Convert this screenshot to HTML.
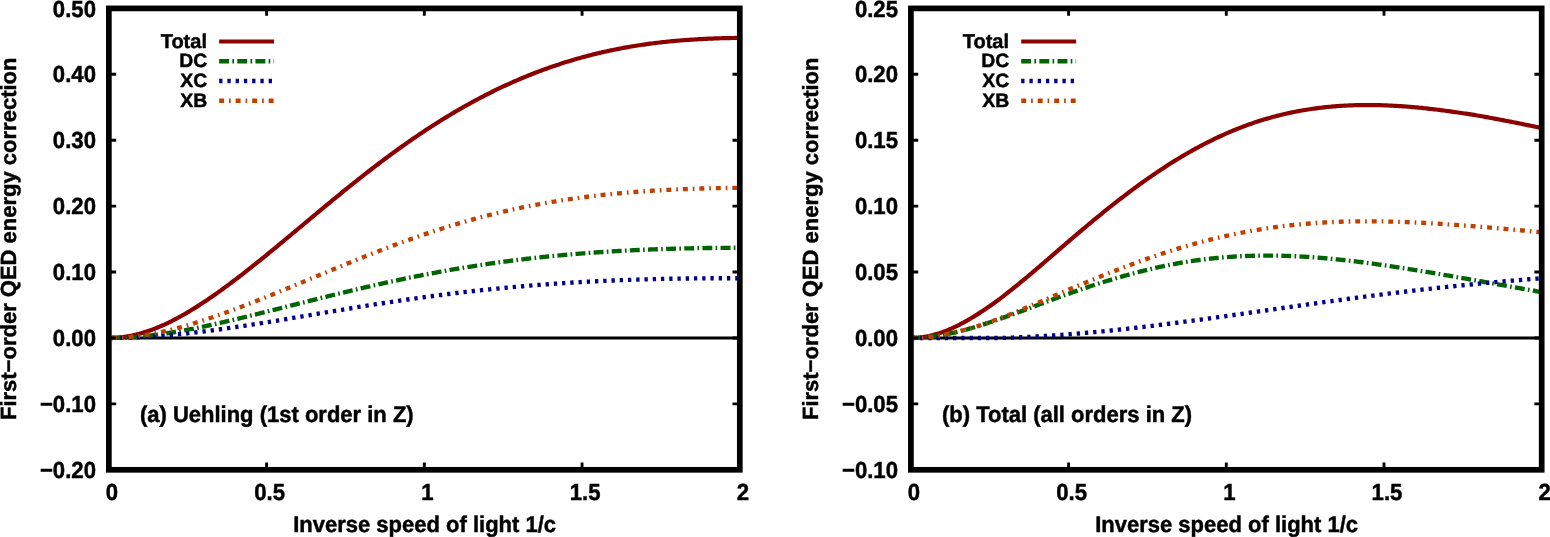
<!DOCTYPE html>
<html><head><meta charset="utf-8"><title>QED energy correction</title>
<style>html,body{margin:0;padding:0;background:#fff}body{width:1550px;height:537px;overflow:hidden}svg{display:block}</style></head>
<body>
<svg width="1550" height="537" viewBox="0 0 1550 537">
<rect width="1550" height="537" fill="#fff"/>
<line x1="108.85" y1="337.97" x2="739.80" y2="337.97" stroke="#000" stroke-width="2.9"/>
<polyline fill="none" stroke="#8b0000" stroke-width="4.2" stroke-linejoin="round" points="112.00,337.93 113.58,337.87 115.15,337.79 116.73,337.69 118.30,337.56 119.87,337.42 121.45,337.25 123.02,337.05 124.59,336.84 126.17,336.60 127.74,336.35 129.31,336.07 130.89,335.76 132.46,335.44 134.03,335.10 135.61,334.73 137.18,334.34 138.75,333.94 140.33,333.51 141.90,333.06 143.47,332.59 145.05,332.11 146.62,331.60 148.19,331.07 149.77,330.53 151.34,329.96 152.91,329.38 154.49,328.78 156.06,328.16 157.63,327.52 159.21,326.87 160.78,326.19 162.35,325.50 163.93,324.80 165.50,324.08 167.07,323.34 168.65,322.59 170.22,321.82 171.79,321.03 173.37,320.23 174.94,319.42 176.52,318.59 178.09,317.75 179.66,316.89 181.24,316.02 182.81,315.14 184.38,314.24 185.96,313.33 187.53,312.41 189.10,311.47 190.68,310.53 192.25,309.57 193.82,308.60 195.40,307.62 196.97,306.63 198.54,305.63 200.12,304.61 201.69,303.59 203.26,302.56 204.84,301.51 206.41,300.46 207.98,299.40 209.56,298.33 211.13,297.25 212.70,296.16 214.28,295.06 215.85,293.96 217.42,292.84 219.00,291.72 220.57,290.59 222.14,289.45 223.72,288.31 225.29,287.16 226.86,286.00 228.44,284.84 230.01,283.67 231.58,282.49 233.16,281.30 234.73,280.11 236.31,278.92 237.88,277.72 239.45,276.51 241.03,275.30 242.60,274.08 244.17,272.85 245.75,271.63 247.32,270.39 248.89,269.16 250.47,267.91 252.04,266.67 253.61,265.42 255.19,264.16 256.76,262.91 258.33,261.64 259.91,260.38 261.48,259.11 263.05,257.84 264.63,256.56 266.20,255.28 267.77,254.00 269.35,252.72 270.92,251.43 272.49,250.14 274.07,248.85 275.64,247.55 277.21,246.26 278.79,244.96 280.36,243.66 281.93,242.36 283.51,241.05 285.08,239.75 286.65,238.44 288.23,237.13 289.80,235.82 291.37,234.51 292.95,233.20 294.52,231.89 296.10,230.58 297.67,229.26 299.24,227.95 300.82,226.63 302.39,225.32 303.96,224.01 305.54,222.69 307.11,221.38 308.68,220.06 310.26,218.75 311.83,217.43 313.40,216.12 314.98,214.81 316.55,213.50 318.12,212.19 319.70,210.88 321.27,209.57 322.84,208.26 324.42,206.96 325.99,205.66 327.56,204.35 329.14,203.06 330.71,201.76 332.28,200.46 333.86,199.17 335.43,197.88 337.00,196.59 338.58,195.31 340.15,194.02 341.72,192.74 343.30,191.47 344.87,190.19 346.44,188.92 348.02,187.65 349.59,186.39 351.16,185.12 352.74,183.86 354.31,182.61 355.89,181.36 357.46,180.11 359.03,178.86 360.61,177.62 362.18,176.38 363.75,175.15 365.33,173.92 366.90,172.69 368.47,171.47 370.05,170.25 371.62,169.03 373.19,167.82 374.77,166.62 376.34,165.42 377.91,164.22 379.49,163.03 381.06,161.84 382.63,160.65 384.21,159.48 385.78,158.30 387.35,157.13 388.93,155.97 390.50,154.81 392.07,153.65 393.65,152.50 395.22,151.36 396.79,150.21 398.37,149.08 399.94,147.95 401.51,146.82 403.09,145.71 404.66,144.59 406.23,143.48 407.81,142.38 409.38,141.28 410.95,140.19 412.53,139.10 414.10,138.02 415.68,136.94 417.25,135.87 418.82,134.81 420.40,133.75 421.97,132.69 423.54,131.64 425.12,130.60 426.69,129.57 428.26,128.54 429.84,127.51 431.41,126.49 432.98,125.48 434.56,124.47 436.13,123.47 437.70,122.47 439.28,121.48 440.85,120.50 442.42,119.52 444.00,118.55 445.57,117.59 447.14,116.63 448.72,115.67 450.29,114.73 451.86,113.79 453.44,112.85 455.01,111.92 456.58,111.00 458.16,110.08 459.73,109.17 461.30,108.27 462.88,107.37 464.45,106.48 466.02,105.59 467.60,104.72 469.17,103.84 470.74,102.98 472.32,102.12 473.89,101.26 475.47,100.41 477.04,99.57 478.61,98.74 480.19,97.91 481.76,97.08 483.33,96.27 484.91,95.46 486.48,94.65 488.05,93.86 489.63,93.06 491.20,92.28 492.77,91.50 494.35,90.73 495.92,89.96 497.49,89.20 499.07,88.45 500.64,87.70 502.21,86.96 503.79,86.22 505.36,85.50 506.93,84.77 508.51,84.06 510.08,83.35 511.65,82.64 513.23,81.95 514.80,81.25 516.37,80.57 517.95,79.89 519.52,79.22 521.09,78.55 522.67,77.89 524.24,77.24 525.81,76.59 527.39,75.95 528.96,75.31 530.53,74.68 532.11,74.06 533.68,73.44 535.26,72.83 536.83,72.23 538.40,71.63 539.98,71.03 541.55,70.45 543.12,69.87 544.70,69.29 546.27,68.72 547.84,68.16 549.42,67.60 550.99,67.05 552.56,66.51 554.14,65.97 555.71,65.44 557.28,64.91 558.86,64.39 560.43,63.87 562.00,63.37 563.58,62.86 565.15,62.37 566.72,61.87 568.30,61.39 569.87,60.91 571.44,60.43 573.02,59.97 574.59,59.50 576.16,59.05 577.74,58.60 579.31,58.15 580.88,57.71 582.46,57.28 584.03,56.85 585.60,56.43 587.18,56.01 588.75,55.60 590.32,55.19 591.90,54.79 593.47,54.40 595.05,54.01 596.62,53.62 598.19,53.24 599.77,52.87 601.34,52.50 602.91,52.14 604.49,51.79 606.06,51.44 607.63,51.09 609.21,50.75 610.78,50.41 612.35,50.08 613.93,49.76 615.50,49.44 617.07,49.13 618.65,48.82 620.22,48.51 621.79,48.21 623.37,47.92 624.94,47.63 626.51,47.35 628.09,47.07 629.66,46.80 631.23,46.53 632.81,46.27 634.38,46.01 635.95,45.75 637.53,45.51 639.10,45.26 640.67,45.02 642.25,44.79 643.82,44.56 645.39,44.34 646.97,44.12 648.54,43.90 650.11,43.69 651.69,43.49 653.26,43.28 654.84,43.09 656.41,42.90 657.98,42.71 659.56,42.52 661.13,42.35 662.70,42.17 664.28,42.00 665.85,41.83 667.42,41.67 669.00,41.51 670.57,41.36 672.14,41.21 673.72,41.06 675.29,40.92 676.86,40.78 678.44,40.64 680.01,40.51 681.58,40.38 683.16,40.26 684.73,40.13 686.30,40.02 687.88,39.90 689.45,39.79 691.02,39.68 692.60,39.58 694.17,39.48 695.74,39.38 697.32,39.29 698.89,39.20 700.46,39.11 702.04,39.03 703.61,38.95 705.18,38.87 706.76,38.79 708.33,38.72 709.90,38.66 711.48,38.59 713.05,38.53 714.63,38.47 716.20,38.41 717.77,38.36 719.35,38.31 720.92,38.26 722.49,38.22 724.07,38.18 725.64,38.14 727.21,38.11 728.79,38.07 730.36,38.04 731.93,38.02 733.51,37.99 735.08,37.97 736.65,37.95 738.23,37.94 739.80,37.92"/>
<polyline fill="none" stroke="#006400" stroke-width="4.35" stroke-linejoin="round" stroke-dasharray="9.90 3.30 1.65 3.30" points="112.00,337.96 113.58,337.94 115.15,337.91 116.73,337.88 118.30,337.84 119.87,337.79 121.45,337.74 123.02,337.67 124.59,337.60 126.17,337.53 127.74,337.44 129.31,337.35 130.89,337.26 132.46,337.15 134.03,337.04 135.61,336.92 137.18,336.80 138.75,336.67 140.33,336.53 141.90,336.38 143.47,336.23 145.05,336.07 146.62,335.91 148.19,335.74 149.77,335.56 151.34,335.38 152.91,335.19 154.49,335.00 156.06,334.80 157.63,334.59 159.21,334.38 160.78,334.16 162.35,333.94 163.93,333.71 165.50,333.48 167.07,333.24 168.65,333.00 170.22,332.75 171.79,332.50 173.37,332.24 174.94,331.98 176.52,331.72 178.09,331.44 179.66,331.17 181.24,330.89 182.81,330.61 184.38,330.32 185.96,330.03 187.53,329.73 189.10,329.43 190.68,329.13 192.25,328.82 193.82,328.52 195.40,328.20 196.97,327.89 198.54,327.57 200.12,327.24 201.69,326.92 203.26,326.59 204.84,326.26 206.41,325.92 207.98,325.59 209.56,325.25 211.13,324.90 212.70,324.56 214.28,324.21 215.85,323.86 217.42,323.51 219.00,323.15 220.57,322.80 222.14,322.44 223.72,322.08 225.29,321.72 226.86,321.35 228.44,320.99 230.01,320.62 231.58,320.25 233.16,319.88 234.73,319.51 236.31,319.13 237.88,318.76 239.45,318.38 241.03,318.00 242.60,317.62 244.17,317.24 245.75,316.86 247.32,316.47 248.89,316.09 250.47,315.70 252.04,315.32 253.61,314.93 255.19,314.54 256.76,314.15 258.33,313.76 259.91,313.37 261.48,312.98 263.05,312.59 264.63,312.19 266.20,311.80 267.77,311.41 269.35,311.01 270.92,310.62 272.49,310.22 274.07,309.83 275.64,309.43 277.21,309.03 278.79,308.64 280.36,308.24 281.93,307.84 283.51,307.45 285.08,307.05 286.65,306.65 288.23,306.25 289.80,305.86 291.37,305.46 292.95,305.06 294.52,304.66 296.10,304.27 297.67,303.87 299.24,303.47 300.82,303.08 302.39,302.68 303.96,302.28 305.54,301.89 307.11,301.49 308.68,301.10 310.26,300.70 311.83,300.31 313.40,299.91 314.98,299.52 316.55,299.13 318.12,298.74 319.70,298.35 321.27,297.95 322.84,297.56 324.42,297.17 325.99,296.79 327.56,296.40 329.14,296.01 330.71,295.62 332.28,295.24 333.86,294.85 335.43,294.47 337.00,294.08 338.58,293.70 340.15,293.32 341.72,292.94 343.30,292.56 344.87,292.18 346.44,291.80 348.02,291.42 349.59,291.05 351.16,290.67 352.74,290.30 354.31,289.93 355.89,289.56 357.46,289.19 359.03,288.82 360.61,288.45 362.18,288.08 363.75,287.72 365.33,287.35 366.90,286.99 368.47,286.63 370.05,286.27 371.62,285.91 373.19,285.55 374.77,285.20 376.34,284.84 377.91,284.49 379.49,284.14 381.06,283.79 382.63,283.44 384.21,283.09 385.78,282.74 387.35,282.40 388.93,282.06 390.50,281.71 392.07,281.37 393.65,281.04 395.22,280.70 396.79,280.36 398.37,280.03 399.94,279.70 401.51,279.37 403.09,279.04 404.66,278.71 406.23,278.38 407.81,278.06 409.38,277.74 410.95,277.42 412.53,277.10 414.10,276.78 415.68,276.46 417.25,276.15 418.82,275.84 420.40,275.53 421.97,275.22 423.54,274.91 425.12,274.61 426.69,274.30 428.26,274.00 429.84,273.70 431.41,273.40 432.98,273.11 434.56,272.81 436.13,272.52 437.70,272.23 439.28,271.94 440.85,271.65 442.42,271.37 444.00,271.09 445.57,270.80 447.14,270.53 448.72,270.25 450.29,269.97 451.86,269.70 453.44,269.42 455.01,269.15 456.58,268.89 458.16,268.62 459.73,268.35 461.30,268.09 462.88,267.83 464.45,267.57 466.02,267.31 467.60,267.06 469.17,266.81 470.74,266.55 472.32,266.30 473.89,266.06 475.47,265.81 477.04,265.57 478.61,265.33 480.19,265.09 481.76,264.85 483.33,264.61 484.91,264.38 486.48,264.14 488.05,263.91 489.63,263.68 491.20,263.46 492.77,263.23 494.35,263.01 495.92,262.79 497.49,262.57 499.07,262.35 500.64,262.14 502.21,261.92 503.79,261.71 505.36,261.50 506.93,261.29 508.51,261.09 510.08,260.88 511.65,260.68 513.23,260.48 514.80,260.28 516.37,260.08 517.95,259.89 519.52,259.70 521.09,259.50 522.67,259.32 524.24,259.13 525.81,258.94 527.39,258.76 528.96,258.58 530.53,258.40 532.11,258.22 533.68,258.04 535.26,257.87 536.83,257.69 538.40,257.52 539.98,257.35 541.55,257.18 543.12,257.02 544.70,256.85 546.27,256.69 547.84,256.53 549.42,256.37 550.99,256.21 552.56,256.06 554.14,255.90 555.71,255.75 557.28,255.60 558.86,255.45 560.43,255.31 562.00,255.16 563.58,255.02 565.15,254.88 566.72,254.74 568.30,254.60 569.87,254.46 571.44,254.33 573.02,254.19 574.59,254.06 576.16,253.93 577.74,253.80 579.31,253.67 580.88,253.55 582.46,253.43 584.03,253.30 585.60,253.18 587.18,253.06 588.75,252.95 590.32,252.83 591.90,252.72 593.47,252.60 595.05,252.49 596.62,252.38 598.19,252.27 599.77,252.17 601.34,252.06 602.91,251.96 604.49,251.86 606.06,251.76 607.63,251.66 609.21,251.56 610.78,251.46 612.35,251.37 613.93,251.27 615.50,251.18 617.07,251.09 618.65,251.00 620.22,250.92 621.79,250.83 623.37,250.74 624.94,250.66 626.51,250.58 628.09,250.50 629.66,250.42 631.23,250.34 632.81,250.26 634.38,250.19 635.95,250.11 637.53,250.04 639.10,249.97 640.67,249.90 642.25,249.83 643.82,249.76 645.39,249.70 646.97,249.63 648.54,249.57 650.11,249.51 651.69,249.45 653.26,249.39 654.84,249.33 656.41,249.27 657.98,249.21 659.56,249.16 661.13,249.10 662.70,249.05 664.28,249.00 665.85,248.95 667.42,248.90 669.00,248.85 670.57,248.81 672.14,248.76 673.72,248.72 675.29,248.67 676.86,248.63 678.44,248.59 680.01,248.55 681.58,248.51 683.16,248.47 684.73,248.43 686.30,248.40 687.88,248.36 689.45,248.33 691.02,248.30 692.60,248.27 694.17,248.23 695.74,248.21 697.32,248.18 698.89,248.15 700.46,248.12 702.04,248.10 703.61,248.07 705.18,248.05 706.76,248.03 708.33,248.00 709.90,247.98 711.48,247.96 713.05,247.94 714.63,247.93 716.20,247.91 717.77,247.89 719.35,247.88 720.92,247.86 722.49,247.85 724.07,247.84 725.64,247.82 727.21,247.81 728.79,247.80 730.36,247.79 731.93,247.79 733.51,247.78 735.08,247.77 736.65,247.77 738.23,247.76 739.80,247.76"/>
<polyline fill="none" stroke="#00008b" stroke-width="4.35" stroke-linejoin="round" stroke-dasharray="3.30 4.95" points="112.00,337.96 113.58,337.95 115.15,337.94 116.73,337.92 118.30,337.90 119.87,337.87 121.45,337.84 123.02,337.81 124.59,337.77 126.17,337.73 127.74,337.68 129.31,337.63 130.89,337.58 132.46,337.52 134.03,337.46 135.61,337.39 137.18,337.32 138.75,337.25 140.33,337.18 141.90,337.10 143.47,337.01 145.05,336.92 146.62,336.83 148.19,336.74 149.77,336.64 151.34,336.54 152.91,336.44 154.49,336.33 156.06,336.22 157.63,336.10 159.21,335.98 160.78,335.86 162.35,335.74 163.93,335.61 165.50,335.48 167.07,335.35 168.65,335.21 170.22,335.07 171.79,334.93 173.37,334.78 174.94,334.63 176.52,334.48 178.09,334.33 179.66,334.17 181.24,334.01 182.81,333.85 184.38,333.68 185.96,333.52 187.53,333.35 189.10,333.17 190.68,333.00 192.25,332.82 193.82,332.64 195.40,332.46 196.97,332.28 198.54,332.09 200.12,331.90 201.69,331.71 203.26,331.52 204.84,331.32 206.41,331.12 207.98,330.92 209.56,330.72 211.13,330.52 212.70,330.31 214.28,330.10 215.85,329.89 217.42,329.68 219.00,329.47 220.57,329.25 222.14,329.04 223.72,328.82 225.29,328.60 226.86,328.37 228.44,328.15 230.01,327.93 231.58,327.70 233.16,327.47 234.73,327.24 236.31,327.01 237.88,326.77 239.45,326.54 241.03,326.30 242.60,326.07 244.17,325.83 245.75,325.59 247.32,325.35 248.89,325.11 250.47,324.86 252.04,324.62 253.61,324.37 255.19,324.13 256.76,323.88 258.33,323.63 259.91,323.38 261.48,323.13 263.05,322.88 264.63,322.63 266.20,322.37 267.77,322.12 269.35,321.86 270.92,321.61 272.49,321.35 274.07,321.09 275.64,320.84 277.21,320.58 278.79,320.32 280.36,320.06 281.93,319.80 283.51,319.54 285.08,319.28 286.65,319.02 288.23,318.75 289.80,318.49 291.37,318.23 292.95,317.97 294.52,317.70 296.10,317.44 297.67,317.18 299.24,316.91 300.82,316.65 302.39,316.38 303.96,316.12 305.54,315.85 307.11,315.59 308.68,315.32 310.26,315.06 311.83,314.79 313.40,314.53 314.98,314.26 316.55,314.00 318.12,313.73 319.70,313.47 321.27,313.21 322.84,312.94 324.42,312.68 325.99,312.41 327.56,312.15 329.14,311.89 330.71,311.62 332.28,311.36 333.86,311.10 335.43,310.84 337.00,310.57 338.58,310.31 340.15,310.05 341.72,309.79 343.30,309.53 344.87,309.27 346.44,309.01 348.02,308.75 349.59,308.50 351.16,308.24 352.74,307.98 354.31,307.73 355.89,307.47 357.46,307.21 359.03,306.96 360.61,306.71 362.18,306.45 363.75,306.20 365.33,305.95 366.90,305.70 368.47,305.45 370.05,305.20 371.62,304.95 373.19,304.70 374.77,304.46 376.34,304.21 377.91,303.96 379.49,303.72 381.06,303.48 382.63,303.23 384.21,302.99 385.78,302.75 387.35,302.51 388.93,302.27 390.50,302.03 392.07,301.80 393.65,301.56 395.22,301.33 396.79,301.09 398.37,300.86 399.94,300.63 401.51,300.40 403.09,300.17 404.66,299.94 406.23,299.71 407.81,299.48 409.38,299.26 410.95,299.03 412.53,298.81 414.10,298.59 415.68,298.37 417.25,298.15 418.82,297.93 420.40,297.71 421.97,297.49 423.54,297.28 425.12,297.06 426.69,296.85 428.26,296.64 429.84,296.43 431.41,296.22 432.98,296.01 434.56,295.80 436.13,295.59 437.70,295.39 439.28,295.19 440.85,294.98 442.42,294.78 444.00,294.58 445.57,294.38 447.14,294.19 448.72,293.99 450.29,293.79 451.86,293.60 453.44,293.41 455.01,293.22 456.58,293.03 458.16,292.84 459.73,292.65 461.30,292.46 462.88,292.28 464.45,292.10 466.02,291.91 467.60,291.73 469.17,291.55 470.74,291.38 472.32,291.20 473.89,291.02 475.47,290.85 477.04,290.67 478.61,290.50 480.19,290.33 481.76,290.16 483.33,289.99 484.91,289.83 486.48,289.66 488.05,289.50 489.63,289.34 491.20,289.17 492.77,289.01 494.35,288.86 495.92,288.70 497.49,288.54 499.07,288.39 500.64,288.23 502.21,288.08 503.79,287.93 505.36,287.78 506.93,287.63 508.51,287.48 510.08,287.34 511.65,287.19 513.23,287.05 514.80,286.91 516.37,286.77 517.95,286.63 519.52,286.49 521.09,286.35 522.67,286.22 524.24,286.08 525.81,285.95 527.39,285.82 528.96,285.69 530.53,285.56 532.11,285.43 533.68,285.30 535.26,285.18 536.83,285.05 538.40,284.93 539.98,284.81 541.55,284.69 543.12,284.57 544.70,284.45 546.27,284.34 547.84,284.22 549.42,284.11 550.99,283.99 552.56,283.88 554.14,283.77 555.71,283.66 557.28,283.56 558.86,283.45 560.43,283.34 562.00,283.24 563.58,283.14 565.15,283.03 566.72,282.93 568.30,282.83 569.87,282.74 571.44,282.64 573.02,282.54 574.59,282.45 576.16,282.36 577.74,282.26 579.31,282.17 580.88,282.08 582.46,281.99 584.03,281.91 585.60,281.82 587.18,281.73 588.75,281.65 590.32,281.57 591.90,281.48 593.47,281.40 595.05,281.32 596.62,281.25 598.19,281.17 599.77,281.09 601.34,281.02 602.91,280.94 604.49,280.87 606.06,280.80 607.63,280.73 609.21,280.66 610.78,280.59 612.35,280.52 613.93,280.46 615.50,280.39 617.07,280.33 618.65,280.26 620.22,280.20 621.79,280.14 623.37,280.08 624.94,280.02 626.51,279.97 628.09,279.91 629.66,279.85 631.23,279.80 632.81,279.75 634.38,279.69 635.95,279.64 637.53,279.59 639.10,279.54 640.67,279.49 642.25,279.44 643.82,279.40 645.39,279.35 646.97,279.31 648.54,279.26 650.11,279.22 651.69,279.18 653.26,279.14 654.84,279.10 656.41,279.06 657.98,279.02 659.56,278.99 661.13,278.95 662.70,278.92 664.28,278.88 665.85,278.85 667.42,278.82 669.00,278.79 670.57,278.75 672.14,278.73 673.72,278.70 675.29,278.67 676.86,278.64 678.44,278.62 680.01,278.59 681.58,278.57 683.16,278.54 684.73,278.52 686.30,278.50 687.88,278.48 689.45,278.46 691.02,278.44 692.60,278.42 694.17,278.41 695.74,278.39 697.32,278.37 698.89,278.36 700.46,278.35 702.04,278.33 703.61,278.32 705.18,278.31 706.76,278.30 708.33,278.29 709.90,278.28 711.48,278.27 713.05,278.27 714.63,278.26 716.20,278.25 717.77,278.25 719.35,278.24 720.92,278.24 722.49,278.24 724.07,278.24 725.64,278.23 727.21,278.23 728.79,278.23 730.36,278.24 731.93,278.24 733.51,278.24 735.08,278.24 736.65,278.25 738.23,278.25 739.80,278.26"/>
<polyline fill="none" stroke="#c04000" stroke-width="4.35" stroke-linejoin="round" stroke-dasharray="4.95 4.95 1.65 4.95" points="112.00,337.95 113.58,337.92 115.15,337.88 116.73,337.83 118.30,337.77 119.87,337.69 121.45,337.61 123.02,337.51 124.59,337.41 126.17,337.29 127.74,337.16 129.31,337.02 130.89,336.87 132.46,336.71 134.03,336.54 135.61,336.36 137.18,336.17 138.75,335.96 140.33,335.75 141.90,335.53 143.47,335.29 145.05,335.05 146.62,334.80 148.19,334.54 149.77,334.27 151.34,333.98 152.91,333.69 154.49,333.40 156.06,333.09 157.63,332.77 159.21,332.45 160.78,332.11 162.35,331.77 163.93,331.42 165.50,331.06 167.07,330.69 168.65,330.32 170.22,329.94 171.79,329.55 173.37,329.15 174.94,328.75 176.52,328.34 178.09,327.92 179.66,327.49 181.24,327.06 182.81,326.62 184.38,326.18 185.96,325.73 187.53,325.27 189.10,324.81 190.68,324.34 192.25,323.86 193.82,323.38 195.40,322.90 196.97,322.41 198.54,321.91 200.12,321.41 201.69,320.91 203.26,320.39 204.84,319.88 206.41,319.36 207.98,318.83 209.56,318.30 211.13,317.77 212.70,317.23 214.28,316.69 215.85,316.14 217.42,315.59 219.00,315.04 220.57,314.48 222.14,313.92 223.72,313.36 225.29,312.79 226.86,312.22 228.44,311.64 230.01,311.06 231.58,310.48 233.16,309.90 234.73,309.31 236.31,308.72 237.88,308.13 239.45,307.53 241.03,306.93 242.60,306.33 244.17,305.73 245.75,305.12 247.32,304.51 248.89,303.90 250.47,303.29 252.04,302.68 253.61,302.06 255.19,301.44 256.76,300.82 258.33,300.19 259.91,299.57 261.48,298.94 263.05,298.31 264.63,297.68 266.20,297.05 267.77,296.42 269.35,295.78 270.92,295.15 272.49,294.51 274.07,293.87 275.64,293.23 277.21,292.59 278.79,291.94 280.36,291.30 281.93,290.66 283.51,290.01 285.08,289.36 286.65,288.72 288.23,288.07 289.80,287.42 291.37,286.77 292.95,286.12 294.52,285.46 296.10,284.81 297.67,284.16 299.24,283.51 300.82,282.85 302.39,282.20 303.96,281.55 305.54,280.89 307.11,280.24 308.68,279.58 310.26,278.93 311.83,278.27 313.40,277.62 314.98,276.96 316.55,276.31 318.12,275.66 319.70,275.00 321.27,274.35 322.84,273.69 324.42,273.04 325.99,272.39 327.56,271.74 329.14,271.08 330.71,270.43 332.28,269.78 333.86,269.13 335.43,268.48 337.00,267.84 338.58,267.19 340.15,266.54 341.72,265.90 343.30,265.25 344.87,264.61 346.44,263.96 348.02,263.32 349.59,262.68 351.16,262.04 352.74,261.41 354.31,260.77 355.89,260.13 357.46,259.50 359.03,258.87 360.61,258.24 362.18,257.61 363.75,256.98 365.33,256.35 366.90,255.73 368.47,255.11 370.05,254.49 371.62,253.87 373.19,253.25 374.77,252.63 376.34,252.02 377.91,251.41 379.49,250.80 381.06,250.19 382.63,249.59 384.21,248.98 385.78,248.38 387.35,247.78 388.93,247.19 390.50,246.59 392.07,246.00 393.65,245.41 395.22,244.82 396.79,244.24 398.37,243.65 399.94,243.07 401.51,242.50 403.09,241.92 404.66,241.35 406.23,240.78 407.81,240.21 409.38,239.65 410.95,239.09 412.53,238.53 414.10,237.97 415.68,237.42 417.25,236.87 418.82,236.32 420.40,235.78 421.97,235.24 423.54,234.70 425.12,234.16 426.69,233.63 428.26,233.10 429.84,232.57 431.41,232.05 432.98,231.53 434.56,231.01 436.13,230.50 437.70,229.99 439.28,229.48 440.85,228.97 442.42,228.47 444.00,227.97 445.57,227.48 447.14,226.99 448.72,226.50 450.29,226.01 451.86,225.53 453.44,225.05 455.01,224.58 456.58,224.11 458.16,223.64 459.73,223.17 461.30,222.71 462.88,222.25 464.45,221.80 466.02,221.35 467.60,220.90 469.17,220.45 470.74,220.01 472.32,219.57 473.89,219.14 475.47,218.71 477.04,218.28 478.61,217.86 480.19,217.44 481.76,217.02 483.33,216.61 484.91,216.20 486.48,215.79 488.05,215.39 489.63,214.99 491.20,214.59 492.77,214.20 494.35,213.81 495.92,213.43 497.49,213.04 499.07,212.66 500.64,212.29 502.21,211.92 503.79,211.55 505.36,211.18 506.93,210.82 508.51,210.47 510.08,210.11 511.65,209.76 513.23,209.41 514.80,209.07 516.37,208.73 517.95,208.39 519.52,208.06 521.09,207.73 522.67,207.40 524.24,207.08 525.81,206.76 527.39,206.44 528.96,206.13 530.53,205.82 532.11,205.51 533.68,205.21 535.26,204.91 536.83,204.61 538.40,204.32 539.98,204.03 541.55,203.74 543.12,203.45 544.70,203.17 546.27,202.90 547.84,202.62 549.42,202.35 550.99,202.08 552.56,201.82 554.14,201.56 555.71,201.30 557.28,201.05 558.86,200.79 560.43,200.54 562.00,200.30 563.58,200.06 565.15,199.82 566.72,199.58 568.30,199.35 569.87,199.12 571.44,198.89 573.02,198.66 574.59,198.44 576.16,198.22 577.74,198.01 579.31,197.79 580.88,197.58 582.46,197.38 584.03,197.17 585.60,196.97 587.18,196.77 588.75,196.57 590.32,196.38 591.90,196.19 593.47,196.00 595.05,195.82 596.62,195.64 598.19,195.46 599.77,195.28 601.34,195.10 602.91,194.93 604.49,194.76 606.06,194.60 607.63,194.43 609.21,194.27 610.78,194.11 612.35,193.95 613.93,193.80 615.50,193.65 617.07,193.50 618.65,193.35 620.22,193.21 621.79,193.07 623.37,192.93 624.94,192.79 626.51,192.65 628.09,192.52 629.66,192.39 631.23,192.26 632.81,192.14 634.38,192.01 635.95,191.89 637.53,191.77 639.10,191.66 640.67,191.54 642.25,191.43 643.82,191.32 645.39,191.21 646.97,191.10 648.54,191.00 650.11,190.90 651.69,190.79 653.26,190.70 654.84,190.60 656.41,190.51 657.98,190.41 659.56,190.32 661.13,190.23 662.70,190.15 664.28,190.06 665.85,189.98 667.42,189.90 669.00,189.82 670.57,189.74 672.14,189.67 673.72,189.59 675.29,189.52 676.86,189.45 678.44,189.38 680.01,189.31 681.58,189.25 683.16,189.18 684.73,189.12 686.30,189.06 687.88,189.00 689.45,188.94 691.02,188.89 692.60,188.83 694.17,188.78 695.74,188.73 697.32,188.68 698.89,188.63 700.46,188.58 702.04,188.54 703.61,188.50 705.18,188.45 706.76,188.41 708.33,188.37 709.90,188.33 711.48,188.30 713.05,188.26 714.63,188.23 716.20,188.20 717.77,188.16 719.35,188.13 720.92,188.10 722.49,188.08 724.07,188.05 725.64,188.02 727.21,188.00 728.79,187.98 730.36,187.96 731.93,187.94 733.51,187.92 735.08,187.90 736.65,187.88 738.23,187.87 739.80,187.85"/>
<text transform="translate(95.95 477.90) scale(1 1.047)" text-anchor="end" font-size="22.15" stroke="#000" stroke-width="0.45" text-rendering="geometricPrecision" font-family="Liberation Sans, Arial, Helvetica, sans-serif" font-weight="bold">−0.20</text>
<text transform="translate(95.95 411.99) scale(1 1.047)" text-anchor="end" font-size="22.15" stroke="#000" stroke-width="0.45" text-rendering="geometricPrecision" font-family="Liberation Sans, Arial, Helvetica, sans-serif" font-weight="bold">−0.10</text>
<text transform="translate(95.95 346.07) scale(1 1.047)" text-anchor="end" font-size="22.15" stroke="#000" stroke-width="0.45" text-rendering="geometricPrecision" font-family="Liberation Sans, Arial, Helvetica, sans-serif" font-weight="bold">0.00</text>
<text transform="translate(95.95 280.16) scale(1 1.047)" text-anchor="end" font-size="22.15" stroke="#000" stroke-width="0.45" text-rendering="geometricPrecision" font-family="Liberation Sans, Arial, Helvetica, sans-serif" font-weight="bold">0.10</text>
<text transform="translate(95.95 214.24) scale(1 1.047)" text-anchor="end" font-size="22.15" stroke="#000" stroke-width="0.45" text-rendering="geometricPrecision" font-family="Liberation Sans, Arial, Helvetica, sans-serif" font-weight="bold">0.20</text>
<text transform="translate(95.95 148.33) scale(1 1.047)" text-anchor="end" font-size="22.15" stroke="#000" stroke-width="0.45" text-rendering="geometricPrecision" font-family="Liberation Sans, Arial, Helvetica, sans-serif" font-weight="bold">0.30</text>
<text transform="translate(95.95 82.41) scale(1 1.047)" text-anchor="end" font-size="22.15" stroke="#000" stroke-width="0.45" text-rendering="geometricPrecision" font-family="Liberation Sans, Arial, Helvetica, sans-serif" font-weight="bold">0.40</text>
<text transform="translate(95.95 16.50) scale(1 1.047)" text-anchor="end" font-size="22.15" stroke="#000" stroke-width="0.45" text-rendering="geometricPrecision" font-family="Liberation Sans, Arial, Helvetica, sans-serif" font-weight="bold">0.50</text>
<text transform="translate(111.85 500.00) scale(1 1.047)" text-anchor="middle" font-size="22.15" stroke="#000" stroke-width="0.45" text-rendering="geometricPrecision" font-family="Liberation Sans, Arial, Helvetica, sans-serif" font-weight="bold">0</text>
<text transform="translate(269.59 500.00) scale(1 1.047)" text-anchor="middle" font-size="22.15" stroke="#000" stroke-width="0.45" text-rendering="geometricPrecision" font-family="Liberation Sans, Arial, Helvetica, sans-serif" font-weight="bold">0.5</text>
<text transform="translate(427.32 500.00) scale(1 1.047)" text-anchor="middle" font-size="22.15" stroke="#000" stroke-width="0.45" text-rendering="geometricPrecision" font-family="Liberation Sans, Arial, Helvetica, sans-serif" font-weight="bold">1</text>
<text transform="translate(585.06 500.00) scale(1 1.047)" text-anchor="middle" font-size="22.15" stroke="#000" stroke-width="0.45" text-rendering="geometricPrecision" font-family="Liberation Sans, Arial, Helvetica, sans-serif" font-weight="bold">1.5</text>
<text transform="translate(742.80 500.00) scale(1 1.047)" text-anchor="middle" font-size="22.15" stroke="#000" stroke-width="0.45" text-rendering="geometricPrecision" font-family="Liberation Sans, Arial, Helvetica, sans-serif" font-weight="bold">2</text>
<path d="M108.85 469.80h7.3M739.80 469.80h-7.3M108.85 403.89h7.3M739.80 403.89h-7.3M108.85 337.97h7.3M739.80 337.97h-7.3M108.85 272.06h7.3M739.80 272.06h-7.3M108.85 206.14h7.3M739.80 206.14h-7.3M108.85 140.23h7.3M739.80 140.23h-7.3M108.85 74.31h7.3M739.80 74.31h-7.3M108.85 8.40h7.3M739.80 8.40h-7.3M108.85 8.40v7.3M108.85 469.80v-7.3M266.59 8.40v7.3M266.59 469.80v-7.3M424.32 8.40v7.3M424.32 469.80v-7.3M582.06 8.40v7.3M582.06 469.80v-7.3M739.80 8.40v7.3M739.80 469.80v-7.3" stroke="#000" stroke-width="2.9" fill="none"/>
<rect x="108.85" y="8.40" width="630.95" height="461.40" fill="none" stroke="#000" stroke-width="5.7"/>
<line x1="219.15" y1="41.50" x2="274.05" y2="41.50" stroke="#8b0000" stroke-width="4.2"/>
<text transform="translate(206.95 47.50)" text-anchor="end" font-size="20" stroke="#000" stroke-width="0.45" text-rendering="geometricPrecision" font-family="Liberation Sans, Arial, Helvetica, sans-serif" font-weight="bold">Total</text>
<line x1="219.15" y1="61.25" x2="274.05" y2="61.25" stroke="#006400" stroke-width="4.35" stroke-dasharray="9.90 3.30 1.65 3.30"/>
<text transform="translate(207.25 67.15)" text-anchor="end" font-size="19.4" stroke="#000" stroke-width="0.45" text-rendering="geometricPrecision" font-family="Liberation Sans, Arial, Helvetica, sans-serif" font-weight="bold">DC</text>
<line x1="219.15" y1="81.00" x2="274.05" y2="81.00" stroke="#00008b" stroke-width="4.35" stroke-dasharray="3.30 4.95"/>
<text transform="translate(207.25 86.90)" text-anchor="end" font-size="19.4" stroke="#000" stroke-width="0.45" text-rendering="geometricPrecision" font-family="Liberation Sans, Arial, Helvetica, sans-serif" font-weight="bold">XC</text>
<line x1="219.15" y1="100.75" x2="274.05" y2="100.75" stroke="#c04000" stroke-width="4.35" stroke-dasharray="4.95 4.95 1.65 4.95"/>
<text transform="translate(207.25 106.65)" text-anchor="end" font-size="19.4" stroke="#000" stroke-width="0.45" text-rendering="geometricPrecision" font-family="Liberation Sans, Arial, Helvetica, sans-serif" font-weight="bold">XB</text>
<text transform="translate(139.90 422.00) scale(1 1.03)" text-anchor="start" font-size="22" stroke="#000" stroke-width="0.45" text-rendering="geometricPrecision" font-family="Liberation Sans, Arial, Helvetica, sans-serif" font-weight="bold">(a) Uehling (1st order in Z)</text>
<text transform="translate(424.62 532.00) scale(1 1.03)" text-anchor="middle" font-size="22" stroke="#000" stroke-width="0.45" text-rendering="geometricPrecision" font-family="Liberation Sans, Arial, Helvetica, sans-serif" font-weight="bold">Inverse speed of light 1/c</text>
<text transform="translate(15.85 238.80) rotate(-90)" text-anchor="middle" font-size="22" stroke="#000" stroke-width="0.45" text-rendering="geometricPrecision" font-family="Liberation Sans, Arial, Helvetica, sans-serif" font-weight="bold">First−order QED energy correction</text>
<line x1="910.90" y1="337.97" x2="1541.70" y2="337.97" stroke="#000" stroke-width="2.9"/>
<polyline fill="none" stroke="#8b0000" stroke-width="4.2" stroke-linejoin="round" points="911.85,337.97 913.42,337.93 915.00,337.87 916.58,337.78 918.16,337.66 919.74,337.50 921.32,337.32 922.90,337.11 924.47,336.87 926.05,336.60 927.63,336.30 929.21,335.98 930.79,335.62 932.37,335.24 933.95,334.83 935.52,334.39 937.10,333.92 938.68,333.43 940.26,332.91 941.84,332.37 943.42,331.80 945.00,331.20 946.57,330.58 948.15,329.94 949.73,329.27 951.31,328.57 952.89,327.86 954.47,327.12 956.05,326.36 957.63,325.58 959.20,324.78 960.78,323.98 962.36,323.15 963.94,322.30 965.52,321.44 967.10,320.55 968.68,319.65 970.25,318.73 971.83,317.80 973.41,316.84 974.99,315.87 976.57,314.89 978.15,313.89 979.73,312.87 981.30,311.84 982.88,310.80 984.46,309.75 986.04,308.68 987.62,307.60 989.20,306.51 990.78,305.41 992.35,304.30 993.93,303.17 995.51,302.04 997.09,300.90 998.67,299.75 1000.25,298.59 1001.83,297.39 1003.40,296.18 1004.98,294.95 1006.56,293.71 1008.14,292.46 1009.72,291.21 1011.30,289.95 1012.88,288.68 1014.45,287.40 1016.03,286.12 1017.61,284.83 1019.19,283.54 1020.77,282.24 1022.35,280.94 1023.93,279.63 1025.50,278.31 1027.08,277.00 1028.66,275.67 1030.24,274.35 1031.82,273.02 1033.40,271.69 1034.98,270.35 1036.55,269.02 1038.13,267.67 1039.71,266.31 1041.29,264.95 1042.87,263.59 1044.45,262.23 1046.03,260.86 1047.60,259.50 1049.18,258.13 1050.76,256.77 1052.34,255.41 1053.92,254.04 1055.50,252.68 1057.08,251.31 1058.65,249.95 1060.23,248.59 1061.81,247.23 1063.39,245.87 1064.97,244.51 1066.55,243.15 1068.13,241.80 1069.70,240.45 1071.28,239.10 1072.86,237.75 1074.44,236.40 1076.02,235.06 1077.60,233.72 1079.18,232.38 1080.75,231.04 1082.33,229.71 1083.91,228.38 1085.49,227.06 1087.07,225.74 1088.65,224.42 1090.23,223.10 1091.80,221.79 1093.38,220.49 1094.96,219.19 1096.54,217.89 1098.12,216.59 1099.70,215.30 1101.28,214.02 1102.85,212.74 1104.43,211.46 1106.01,210.19 1107.59,208.93 1109.17,207.67 1110.75,206.41 1112.33,205.16 1113.90,203.92 1115.48,202.68 1117.06,201.44 1118.64,200.21 1120.22,198.99 1121.80,197.77 1123.38,196.56 1124.95,195.36 1126.53,194.16 1128.11,192.97 1129.69,191.78 1131.27,190.60 1132.85,189.42 1134.43,188.26 1136.00,187.10 1137.58,185.94 1139.16,184.79 1140.74,183.65 1142.32,182.52 1143.90,181.39 1145.48,180.27 1147.05,179.16 1148.63,178.05 1150.21,176.95 1151.79,175.86 1153.37,174.77 1154.95,173.70 1156.53,172.63 1158.10,171.56 1159.68,170.51 1161.26,169.46 1162.84,168.42 1164.42,167.39 1166.00,166.37 1167.58,165.35 1169.15,164.34 1170.73,163.34 1172.31,162.35 1173.89,161.36 1175.47,160.39 1177.05,159.42 1178.63,158.46 1180.20,157.51 1181.78,156.56 1183.36,155.63 1184.94,154.70 1186.52,153.78 1188.10,152.87 1189.68,151.97 1191.26,151.08 1192.83,150.19 1194.41,149.32 1195.99,148.45 1197.57,147.59 1199.15,146.74 1200.73,145.90 1202.31,145.07 1203.88,144.24 1205.46,143.43 1207.04,142.62 1208.62,141.82 1210.20,141.04 1211.78,140.26 1213.36,139.49 1214.93,138.72 1216.51,137.97 1218.09,137.23 1219.67,136.49 1221.25,135.76 1222.83,135.05 1224.41,134.34 1225.98,133.64 1227.56,132.95 1229.14,132.27 1230.72,131.60 1232.30,130.93 1233.88,130.28 1235.46,129.64 1237.03,129.00 1238.61,128.37 1240.19,127.75 1241.77,127.15 1243.35,126.55 1244.93,125.95 1246.51,125.37 1248.08,124.80 1249.66,124.24 1251.24,123.68 1252.82,123.13 1254.40,122.60 1255.98,122.07 1257.56,121.55 1259.13,121.04 1260.71,120.54 1262.29,120.05 1263.87,119.56 1265.45,119.09 1267.03,118.62 1268.61,118.16 1270.18,117.71 1271.76,117.27 1273.34,116.84 1274.92,116.42 1276.50,116.00 1278.08,115.60 1279.66,115.20 1281.23,114.81 1282.81,114.43 1284.39,114.06 1285.97,113.70 1287.55,113.34 1289.13,113.00 1290.71,112.66 1292.28,112.33 1293.86,112.01 1295.44,111.69 1297.02,111.39 1298.60,111.09 1300.18,110.80 1301.76,110.52 1303.33,110.24 1304.91,109.98 1306.49,109.72 1308.07,109.47 1309.65,109.23 1311.23,108.99 1312.81,108.76 1314.38,108.55 1315.96,108.33 1317.54,108.13 1319.12,107.93 1320.70,107.74 1322.28,107.55 1323.86,107.37 1325.43,107.20 1327.01,107.03 1328.59,106.87 1330.17,106.72 1331.75,106.58 1333.33,106.44 1334.91,106.31 1336.48,106.18 1338.06,106.06 1339.64,105.95 1341.22,105.85 1342.80,105.75 1344.38,105.66 1345.96,105.57 1347.53,105.49 1349.11,105.42 1350.69,105.35 1352.27,105.29 1353.85,105.24 1355.43,105.19 1357.01,105.15 1358.58,105.12 1360.16,105.09 1361.74,105.06 1363.32,105.05 1364.90,105.03 1366.48,105.03 1368.06,105.03 1369.63,105.03 1371.21,105.04 1372.79,105.06 1374.37,105.08 1375.95,105.10 1377.53,105.14 1379.11,105.17 1380.68,105.21 1382.26,105.26 1383.84,105.31 1385.42,105.37 1387.00,105.43 1388.58,105.50 1390.16,105.57 1391.73,105.65 1393.31,105.73 1394.89,105.81 1396.47,105.90 1398.05,106.00 1399.63,106.10 1401.21,106.20 1402.78,106.31 1404.36,106.42 1405.94,106.53 1407.52,106.66 1409.10,106.78 1410.68,106.91 1412.26,107.04 1413.83,107.18 1415.41,107.32 1416.99,107.46 1418.57,107.62 1420.15,107.78 1421.73,107.94 1423.31,108.10 1424.89,108.27 1426.46,108.44 1428.04,108.61 1429.62,108.79 1431.20,108.97 1432.78,109.16 1434.36,109.35 1435.94,109.54 1437.51,109.73 1439.09,109.93 1440.67,110.13 1442.25,110.33 1443.83,110.54 1445.41,110.74 1446.99,110.96 1448.56,111.17 1450.14,111.39 1451.72,111.61 1453.30,111.83 1454.88,112.05 1456.46,112.28 1458.04,112.51 1459.61,112.74 1461.19,112.98 1462.77,113.22 1464.35,113.46 1465.93,113.70 1467.51,113.94 1469.09,114.19 1470.66,114.43 1472.24,114.69 1473.82,114.94 1475.40,115.19 1476.98,115.45 1478.56,115.71 1480.14,115.99 1481.71,116.27 1483.29,116.55 1484.87,116.84 1486.45,117.12 1488.03,117.41 1489.61,117.70 1491.19,117.99 1492.76,118.29 1494.34,118.58 1495.92,118.88 1497.50,119.18 1499.08,119.48 1500.66,119.78 1502.24,120.08 1503.81,120.38 1505.39,120.69 1506.97,121.00 1508.55,121.30 1510.13,121.61 1511.71,121.92 1513.29,122.23 1514.86,122.55 1516.44,122.86 1518.02,123.17 1519.60,123.49 1521.18,123.80 1522.76,124.12 1524.34,124.44 1525.91,124.76 1527.49,125.08 1529.07,125.40 1530.65,125.72 1532.23,126.04 1533.81,126.37 1535.39,126.69 1536.96,127.01 1538.54,127.34 1540.12,127.67 1541.70,127.99"/>
<polyline fill="none" stroke="#006400" stroke-width="4.35" stroke-linejoin="round" stroke-dasharray="9.90 3.30 1.65 3.30" points="911.85,337.97 913.42,337.95 915.00,337.92 916.58,337.87 918.16,337.81 919.74,337.73 921.32,337.64 922.90,337.54 924.47,337.41 926.05,337.28 927.63,337.13 929.21,336.96 930.79,336.78 932.37,336.59 933.95,336.38 935.52,336.16 937.10,335.93 938.68,335.68 940.26,335.42 941.84,335.14 943.42,334.86 945.00,334.56 946.57,334.25 948.15,333.92 949.73,333.59 951.31,333.24 952.89,332.88 954.47,332.52 956.05,332.14 957.63,331.75 959.20,331.36 960.78,330.97 962.36,330.56 963.94,330.15 965.52,329.73 967.10,329.30 968.68,328.87 970.25,328.42 971.83,327.97 973.41,327.51 974.99,327.04 976.57,326.57 978.15,326.08 979.73,325.60 981.30,325.10 982.88,324.60 984.46,324.10 986.04,323.58 987.62,323.07 989.20,322.55 990.78,322.02 992.35,321.49 993.93,320.96 995.51,320.42 997.09,319.87 998.67,319.33 1000.25,318.78 1001.83,318.23 1003.40,317.67 1004.98,317.11 1006.56,316.55 1008.14,315.99 1009.72,315.43 1011.30,314.86 1012.88,314.29 1014.45,313.72 1016.03,313.15 1017.61,312.58 1019.19,312.00 1020.77,311.43 1022.35,310.84 1023.93,310.25 1025.50,309.65 1027.08,309.06 1028.66,308.47 1030.24,307.87 1031.82,307.28 1033.40,306.68 1034.98,306.09 1036.55,305.50 1038.13,304.91 1039.71,304.31 1041.29,303.72 1042.87,303.13 1044.45,302.55 1046.03,301.96 1047.60,301.37 1049.18,300.79 1050.76,300.20 1052.34,299.62 1053.92,299.04 1055.50,298.46 1057.08,297.88 1058.65,297.31 1060.23,296.74 1061.81,296.17 1063.39,295.60 1064.97,295.03 1066.55,294.46 1068.13,293.90 1069.70,293.34 1071.28,292.79 1072.86,292.23 1074.44,291.68 1076.02,291.13 1077.60,290.58 1079.18,290.04 1080.75,289.50 1082.33,288.96 1083.91,288.42 1085.49,287.89 1087.07,287.36 1088.65,286.84 1090.23,286.31 1091.80,285.80 1093.38,285.28 1094.96,284.77 1096.54,284.26 1098.12,283.75 1099.70,283.25 1101.28,282.75 1102.85,282.26 1104.43,281.76 1106.01,281.28 1107.59,280.79 1109.17,280.31 1110.75,279.84 1112.33,279.36 1113.90,278.90 1115.48,278.43 1117.06,277.97 1118.64,277.50 1120.22,277.04 1121.80,276.59 1123.38,276.13 1124.95,275.69 1126.53,275.24 1128.11,274.81 1129.69,274.37 1131.27,273.94 1132.85,273.52 1134.43,273.09 1136.00,272.68 1137.58,272.27 1139.16,271.86 1140.74,271.45 1142.32,271.06 1143.90,270.66 1145.48,270.27 1147.05,269.89 1148.63,269.51 1150.21,269.13 1151.79,268.76 1153.37,268.40 1154.95,268.04 1156.53,267.68 1158.10,267.33 1159.68,266.98 1161.26,266.64 1162.84,266.30 1164.42,265.97 1166.00,265.65 1167.58,265.32 1169.15,265.01 1170.73,264.70 1172.31,264.39 1173.89,264.09 1175.47,263.79 1177.05,263.50 1178.63,263.21 1180.20,262.94 1181.78,262.67 1183.36,262.40 1184.94,262.14 1186.52,261.89 1188.10,261.64 1189.68,261.39 1191.26,261.15 1192.83,260.92 1194.41,260.69 1195.99,260.46 1197.57,260.24 1199.15,260.03 1200.73,259.82 1202.31,259.62 1203.88,259.42 1205.46,259.23 1207.04,259.04 1208.62,258.86 1210.20,258.68 1211.78,258.50 1213.36,258.34 1214.93,258.17 1216.51,258.02 1218.09,257.86 1219.67,257.72 1221.25,257.58 1222.83,257.44 1224.41,257.31 1225.98,257.18 1227.56,257.06 1229.14,256.94 1230.72,256.83 1232.30,256.72 1233.88,256.62 1235.46,256.52 1237.03,256.43 1238.61,256.34 1240.19,256.26 1241.77,256.18 1243.35,256.11 1244.93,256.04 1246.51,255.98 1248.08,255.92 1249.66,255.86 1251.24,255.82 1252.82,255.77 1254.40,255.73 1255.98,255.70 1257.56,255.67 1259.13,255.64 1260.71,255.62 1262.29,255.60 1263.87,255.59 1265.45,255.58 1267.03,255.58 1268.61,255.58 1270.18,255.59 1271.76,255.60 1273.34,255.61 1274.92,255.63 1276.50,255.65 1278.08,255.68 1279.66,255.71 1281.23,255.75 1282.81,255.79 1284.39,255.83 1285.97,255.88 1287.55,255.93 1289.13,255.99 1290.71,256.05 1292.28,256.11 1293.86,256.18 1295.44,256.25 1297.02,256.32 1298.60,256.40 1300.18,256.48 1301.76,256.57 1303.33,256.66 1304.91,256.75 1306.49,256.85 1308.07,256.95 1309.65,257.06 1311.23,257.16 1312.81,257.27 1314.38,257.39 1315.96,257.51 1317.54,257.63 1319.12,257.75 1320.70,257.88 1322.28,258.01 1323.86,258.15 1325.43,258.28 1327.01,258.42 1328.59,258.57 1330.17,258.71 1331.75,258.86 1333.33,259.02 1334.91,259.17 1336.48,259.33 1338.06,259.49 1339.64,259.65 1341.22,259.82 1342.80,259.99 1344.38,260.16 1345.96,260.34 1347.53,260.51 1349.11,260.69 1350.69,260.88 1352.27,261.06 1353.85,261.25 1355.43,261.44 1357.01,261.63 1358.58,261.82 1360.16,262.02 1361.74,262.22 1363.32,262.42 1364.90,262.62 1366.48,262.83 1368.06,263.04 1369.63,263.25 1371.21,263.46 1372.79,263.67 1374.37,263.89 1375.95,264.11 1377.53,264.33 1379.11,264.55 1380.68,264.77 1382.26,265.00 1383.84,265.22 1385.42,265.45 1387.00,265.68 1388.58,265.91 1390.16,266.15 1391.73,266.38 1393.31,266.62 1394.89,266.86 1396.47,267.10 1398.05,267.34 1399.63,267.58 1401.21,267.83 1402.78,268.07 1404.36,268.32 1405.94,268.57 1407.52,268.82 1409.10,269.07 1410.68,269.32 1412.26,269.57 1413.83,269.83 1415.41,270.08 1416.99,270.34 1418.57,270.59 1420.15,270.85 1421.73,271.11 1423.31,271.37 1424.89,271.64 1426.46,271.90 1428.04,272.16 1429.62,272.43 1431.20,272.69 1432.78,272.96 1434.36,273.22 1435.94,273.49 1437.51,273.76 1439.09,274.03 1440.67,274.30 1442.25,274.57 1443.83,274.84 1445.41,275.11 1446.99,275.38 1448.56,275.66 1450.14,275.93 1451.72,276.20 1453.30,276.48 1454.88,276.75 1456.46,277.03 1458.04,277.30 1459.61,277.58 1461.19,277.86 1462.77,278.13 1464.35,278.41 1465.93,278.69 1467.51,278.97 1469.09,279.25 1470.66,279.53 1472.24,279.80 1473.82,280.08 1475.40,280.36 1476.98,280.64 1478.56,280.92 1480.14,281.20 1481.71,281.48 1483.29,281.76 1484.87,282.04 1486.45,282.32 1488.03,282.61 1489.61,282.89 1491.19,283.17 1492.76,283.45 1494.34,283.73 1495.92,284.01 1497.50,284.29 1499.08,284.57 1500.66,284.85 1502.24,285.13 1503.81,285.41 1505.39,285.69 1506.97,285.97 1508.55,286.26 1510.13,286.54 1511.71,286.82 1513.29,287.10 1514.86,287.38 1516.44,287.66 1518.02,287.94 1519.60,288.21 1521.18,288.49 1522.76,288.77 1524.34,289.05 1525.91,289.33 1527.49,289.61 1529.07,289.89 1530.65,290.16 1532.23,290.44 1533.81,290.72 1535.39,290.99 1536.96,291.27 1538.54,291.55 1540.12,291.82 1541.70,292.10"/>
<polyline fill="none" stroke="#00008b" stroke-width="4.35" stroke-linejoin="round" stroke-dasharray="3.30 4.95" points="911.85,337.97 913.42,337.97 915.00,337.97 916.58,337.97 918.16,337.97 919.74,337.97 921.32,337.97 922.90,337.97 924.47,337.97 926.05,337.97 927.63,337.97 929.21,337.97 930.79,337.97 932.37,337.97 933.95,337.97 935.52,337.97 937.10,337.97 938.68,337.97 940.26,337.97 941.84,337.97 943.42,337.97 945.00,337.97 946.57,337.97 948.15,337.97 949.73,337.97 951.31,337.97 952.89,337.97 954.47,337.97 956.05,337.97 957.63,337.97 959.20,337.97 960.78,337.97 962.36,337.97 963.94,337.97 965.52,337.97 967.10,337.97 968.68,337.97 970.25,337.97 971.83,337.97 973.41,337.97 974.99,337.97 976.57,337.97 978.15,337.97 979.73,337.97 981.30,337.97 982.88,337.97 984.46,337.97 986.04,337.97 987.62,337.97 989.20,337.97 990.78,337.97 992.35,337.97 993.93,337.97 995.51,337.97 997.09,337.97 998.67,337.97 1000.25,337.97 1001.83,337.94 1003.40,337.90 1004.98,337.85 1006.56,337.80 1008.14,337.75 1009.72,337.70 1011.30,337.64 1012.88,337.58 1014.45,337.53 1016.03,337.46 1017.61,337.40 1019.19,337.33 1020.77,337.27 1022.35,337.20 1023.93,337.12 1025.50,337.05 1027.08,336.97 1028.66,336.90 1030.24,336.82 1031.82,336.74 1033.40,336.65 1034.98,336.57 1036.55,336.48 1038.13,336.39 1039.71,336.30 1041.29,336.21 1042.87,336.11 1044.45,336.02 1046.03,335.92 1047.60,335.82 1049.18,335.72 1050.76,335.61 1052.34,335.51 1053.92,335.40 1055.50,335.29 1057.08,335.18 1058.65,335.07 1060.23,334.95 1061.81,334.84 1063.39,334.72 1064.97,334.60 1066.55,334.48 1068.13,334.36 1069.70,334.24 1071.28,334.11 1072.86,333.99 1074.44,333.86 1076.02,333.73 1077.60,333.60 1079.18,333.46 1080.75,333.33 1082.33,333.19 1083.91,333.06 1085.49,332.92 1087.07,332.78 1088.65,332.64 1090.23,332.49 1091.80,332.35 1093.38,332.20 1094.96,332.05 1096.54,331.91 1098.12,331.76 1099.70,331.60 1101.28,331.45 1102.85,331.30 1104.43,331.14 1106.01,330.98 1107.59,330.83 1109.17,330.67 1110.75,330.51 1112.33,330.34 1113.90,330.18 1115.48,330.02 1117.06,329.85 1118.64,329.68 1120.22,329.52 1121.80,329.35 1123.38,329.17 1124.95,329.00 1126.53,328.83 1128.11,328.66 1129.69,328.48 1131.27,328.30 1132.85,328.13 1134.43,327.95 1136.00,327.77 1137.58,327.59 1139.16,327.41 1140.74,327.22 1142.32,327.04 1143.90,326.85 1145.48,326.67 1147.05,326.48 1148.63,326.29 1150.21,326.10 1151.79,325.91 1153.37,325.72 1154.95,325.53 1156.53,325.34 1158.10,325.14 1159.68,324.95 1161.26,324.75 1162.84,324.55 1164.42,324.36 1166.00,324.16 1167.58,323.96 1169.15,323.76 1170.73,323.56 1172.31,323.36 1173.89,323.15 1175.47,322.95 1177.05,322.75 1178.63,322.54 1180.20,322.34 1181.78,322.13 1183.36,321.92 1184.94,321.71 1186.52,321.51 1188.10,321.30 1189.68,321.09 1191.26,320.88 1192.83,320.66 1194.41,320.45 1195.99,320.24 1197.57,320.03 1199.15,319.81 1200.73,319.60 1202.31,319.38 1203.88,319.17 1205.46,318.95 1207.04,318.74 1208.62,318.52 1210.20,318.30 1211.78,318.08 1213.36,317.87 1214.93,317.65 1216.51,317.43 1218.09,317.21 1219.67,316.99 1221.25,316.77 1222.83,316.55 1224.41,316.32 1225.98,316.10 1227.56,315.88 1229.14,315.66 1230.72,315.43 1232.30,315.21 1233.88,314.99 1235.46,314.76 1237.03,314.54 1238.61,314.32 1240.19,314.09 1241.77,313.87 1243.35,313.64 1244.93,313.42 1246.51,313.19 1248.08,312.97 1249.66,312.74 1251.24,312.52 1252.82,312.29 1254.40,312.06 1255.98,311.84 1257.56,311.61 1259.13,311.39 1260.71,311.16 1262.29,310.93 1263.87,310.71 1265.45,310.48 1267.03,310.25 1268.61,310.03 1270.18,309.80 1271.76,309.57 1273.34,309.35 1274.92,309.12 1276.50,308.89 1278.08,308.67 1279.66,308.44 1281.23,308.22 1282.81,307.99 1284.39,307.76 1285.97,307.54 1287.55,307.31 1289.13,307.09 1290.71,306.86 1292.28,306.64 1293.86,306.41 1295.44,306.19 1297.02,305.96 1298.60,305.74 1300.18,305.51 1301.76,305.29 1303.33,305.07 1304.91,304.84 1306.49,304.62 1308.07,304.40 1309.65,304.17 1311.23,303.95 1312.81,303.73 1314.38,303.51 1315.96,303.29 1317.54,303.07 1319.12,302.85 1320.70,302.63 1322.28,302.41 1323.86,302.19 1325.43,301.97 1327.01,301.75 1328.59,301.53 1330.17,301.31 1331.75,301.10 1333.33,300.88 1334.91,300.66 1336.48,300.45 1338.06,300.23 1339.64,300.02 1341.22,299.80 1342.80,299.59 1344.38,299.38 1345.96,299.16 1347.53,298.95 1349.11,298.74 1350.69,298.53 1352.27,298.32 1353.85,298.11 1355.43,297.90 1357.01,297.69 1358.58,297.48 1360.16,297.27 1361.74,297.07 1363.32,296.86 1364.90,296.65 1366.48,296.45 1368.06,296.24 1369.63,296.04 1371.21,295.84 1372.79,295.63 1374.37,295.43 1375.95,295.23 1377.53,295.03 1379.11,294.83 1380.68,294.63 1382.26,294.43 1383.84,294.23 1385.42,294.03 1387.00,293.84 1388.58,293.64 1390.16,293.44 1391.73,293.25 1393.31,293.05 1394.89,292.86 1396.47,292.67 1398.05,292.48 1399.63,292.28 1401.21,292.09 1402.78,291.90 1404.36,291.72 1405.94,291.53 1407.52,291.34 1409.10,291.15 1410.68,290.97 1412.26,290.78 1413.83,290.60 1415.41,290.41 1416.99,290.23 1418.57,290.05 1420.15,289.87 1421.73,289.68 1423.31,289.50 1424.89,289.32 1426.46,289.15 1428.04,288.97 1429.62,288.79 1431.20,288.62 1432.78,288.44 1434.36,288.27 1435.94,288.09 1437.51,287.92 1439.09,287.75 1440.67,287.58 1442.25,287.40 1443.83,287.23 1445.41,287.07 1446.99,286.90 1448.56,286.73 1450.14,286.56 1451.72,286.40 1453.30,286.23 1454.88,286.07 1456.46,285.90 1458.04,285.74 1459.61,285.58 1461.19,285.42 1462.77,285.26 1464.35,285.10 1465.93,284.94 1467.51,284.78 1469.09,284.63 1470.66,284.47 1472.24,284.32 1473.82,284.16 1475.40,284.01 1476.98,283.85 1478.56,283.70 1480.14,283.55 1481.71,283.40 1483.29,283.25 1484.87,283.10 1486.45,282.95 1488.03,282.81 1489.61,282.66 1491.19,282.51 1492.76,282.37 1494.34,282.22 1495.92,282.08 1497.50,281.94 1499.08,281.80 1500.66,281.66 1502.24,281.52 1503.81,281.38 1505.39,281.24 1506.97,281.10 1508.55,280.96 1510.13,280.83 1511.71,280.69 1513.29,280.56 1514.86,280.42 1516.44,280.29 1518.02,280.16 1519.60,280.02 1521.18,279.89 1522.76,279.76 1524.34,279.63 1525.91,279.51 1527.49,279.38 1529.07,279.25 1530.65,279.12 1532.23,279.00 1533.81,278.87 1535.39,278.75 1536.96,278.63 1538.54,278.50 1540.12,278.38 1541.70,278.26"/>
<polyline fill="none" stroke="#c04000" stroke-width="4.35" stroke-linejoin="round" stroke-dasharray="4.95 4.95 1.65 4.95" points="911.85,337.97 913.42,337.95 915.00,337.92 916.58,337.88 918.16,337.82 919.74,337.74 921.32,337.65 922.90,337.55 924.47,337.43 926.05,337.29 927.63,337.15 929.21,336.99 930.79,336.81 932.37,336.62 933.95,336.42 935.52,336.20 937.10,335.97 938.68,335.72 940.26,335.47 941.84,335.20 943.42,334.91 945.00,334.61 946.57,334.31 948.15,333.98 949.73,333.65 951.31,333.30 952.89,332.94 954.47,332.58 956.05,332.19 957.63,331.80 959.20,331.41 960.78,331.01 962.36,330.60 963.94,330.18 965.52,329.75 967.10,329.31 968.68,328.86 970.25,328.40 971.83,327.93 973.41,327.45 974.99,326.97 976.57,326.47 978.15,325.97 979.73,325.46 981.30,324.94 982.88,324.41 984.46,323.88 986.04,323.34 987.62,322.79 989.20,322.24 990.78,321.68 992.35,321.11 993.93,320.54 995.51,319.96 997.09,319.38 998.67,318.79 1000.25,318.19 1001.83,317.60 1003.40,316.99 1004.98,316.38 1006.56,315.77 1008.14,315.16 1009.72,314.54 1011.30,313.91 1012.88,313.29 1014.45,312.66 1016.03,312.02 1017.61,311.39 1019.19,310.75 1020.77,310.10 1022.35,309.45 1023.93,308.79 1025.50,308.13 1027.08,307.46 1028.66,306.79 1030.24,306.12 1031.82,305.45 1033.40,304.78 1034.98,304.11 1036.55,303.44 1038.13,302.76 1039.71,302.09 1041.29,301.41 1042.87,300.73 1044.45,300.06 1046.03,299.38 1047.60,298.70 1049.18,298.03 1050.76,297.35 1052.34,296.67 1053.92,295.99 1055.50,295.32 1057.08,294.64 1058.65,293.97 1060.23,293.29 1061.81,292.62 1063.39,291.94 1064.97,291.27 1066.55,290.60 1068.13,289.93 1069.70,289.26 1071.28,288.59 1072.86,287.92 1074.44,287.26 1076.02,286.59 1077.60,285.93 1079.18,285.27 1080.75,284.61 1082.33,283.95 1083.91,283.30 1085.49,282.64 1087.07,281.99 1088.65,281.34 1090.23,280.69 1091.80,280.04 1093.38,279.40 1094.96,278.76 1096.54,278.12 1098.12,277.48 1099.70,276.84 1101.28,276.21 1102.85,275.58 1104.43,274.95 1106.01,274.32 1107.59,273.70 1109.17,273.08 1110.75,272.46 1112.33,271.85 1113.90,271.23 1115.48,270.62 1117.06,270.01 1118.64,269.39 1120.22,268.78 1121.80,268.17 1123.38,267.56 1124.95,266.96 1126.53,266.36 1128.11,265.76 1129.69,265.17 1131.27,264.58 1132.85,263.99 1134.43,263.40 1136.00,262.82 1137.58,262.24 1139.16,261.67 1140.74,261.09 1142.32,260.52 1143.90,259.96 1145.48,259.40 1147.05,258.84 1148.63,258.28 1150.21,257.73 1151.79,257.18 1153.37,256.63 1154.95,256.09 1156.53,255.55 1158.10,255.02 1159.68,254.49 1161.26,253.96 1162.84,253.44 1164.42,252.92 1166.00,252.40 1167.58,251.89 1169.15,251.38 1170.73,250.87 1172.31,250.37 1173.89,249.87 1175.47,249.38 1177.05,248.89 1178.63,248.40 1180.20,247.93 1181.78,247.46 1183.36,246.99 1184.94,246.53 1186.52,246.07 1188.10,245.62 1189.68,245.17 1191.26,244.73 1192.83,244.28 1194.41,243.85 1195.99,243.41 1197.57,242.99 1199.15,242.56 1200.73,242.14 1202.31,241.72 1203.88,241.31 1205.46,240.90 1207.04,240.50 1208.62,240.10 1210.20,239.70 1211.78,239.31 1213.36,238.93 1214.93,238.54 1216.51,238.16 1218.09,237.79 1219.67,237.42 1221.25,237.05 1222.83,236.69 1224.41,236.34 1225.98,235.98 1227.56,235.64 1229.14,235.29 1230.72,234.95 1232.30,234.62 1233.88,234.29 1235.46,233.96 1237.03,233.64 1238.61,233.32 1240.19,233.01 1241.77,232.70 1243.35,232.39 1244.93,232.09 1246.51,231.80 1248.08,231.51 1249.66,231.22 1251.24,230.94 1252.82,230.66 1254.40,230.39 1255.98,230.12 1257.56,229.85 1259.13,229.59 1260.71,229.33 1262.29,229.08 1263.87,228.83 1265.45,228.59 1267.03,228.35 1268.61,228.12 1270.18,227.89 1271.76,227.66 1273.34,227.44 1274.92,227.22 1276.50,227.01 1278.08,226.80 1279.66,226.59 1281.23,226.39 1282.81,226.20 1284.39,226.01 1285.97,225.82 1287.55,225.63 1289.13,225.45 1290.71,225.28 1292.28,225.11 1293.86,224.94 1295.44,224.78 1297.02,224.62 1298.60,224.46 1300.18,224.31 1301.76,224.17 1303.33,224.02 1304.91,223.89 1306.49,223.75 1308.07,223.62 1309.65,223.49 1311.23,223.37 1312.81,223.25 1314.38,223.14 1315.96,223.02 1317.54,222.92 1319.12,222.81 1320.70,222.71 1322.28,222.62 1323.86,222.52 1325.43,222.43 1327.01,222.35 1328.59,222.27 1330.17,222.19 1331.75,222.11 1333.33,222.04 1334.91,221.97 1336.48,221.91 1338.06,221.85 1339.64,221.79 1341.22,221.74 1342.80,221.69 1344.38,221.64 1345.96,221.60 1347.53,221.56 1349.11,221.52 1350.69,221.49 1352.27,221.45 1353.85,221.43 1355.43,221.40 1357.01,221.38 1358.58,221.36 1360.16,221.35 1361.74,221.33 1363.32,221.33 1364.90,221.32 1366.48,221.32 1368.06,221.31 1369.63,221.32 1371.21,221.32 1372.79,221.33 1374.37,221.34 1375.95,221.35 1377.53,221.37 1379.11,221.39 1380.68,221.41 1382.26,221.43 1383.84,221.46 1385.42,221.49 1387.00,221.52 1388.58,221.56 1390.16,221.59 1391.73,221.63 1393.31,221.67 1394.89,221.72 1396.47,221.76 1398.05,221.81 1399.63,221.86 1401.21,221.91 1402.78,221.97 1404.36,222.03 1405.94,222.09 1407.52,222.15 1409.10,222.21 1410.68,222.28 1412.26,222.34 1413.83,222.41 1415.41,222.48 1416.99,222.56 1418.57,222.63 1420.15,222.71 1421.73,222.79 1423.31,222.87 1424.89,222.95 1426.46,223.04 1428.04,223.12 1429.62,223.21 1431.20,223.30 1432.78,223.39 1434.36,223.49 1435.94,223.58 1437.51,223.68 1439.09,223.77 1440.67,223.87 1442.25,223.97 1443.83,224.08 1445.41,224.18 1446.99,224.28 1448.56,224.39 1450.14,224.50 1451.72,224.61 1453.30,224.72 1454.88,224.83 1456.46,224.94 1458.04,225.05 1459.61,225.17 1461.19,225.29 1462.77,225.40 1464.35,225.52 1465.93,225.64 1467.51,225.76 1469.09,225.88 1470.66,226.01 1472.24,226.13 1473.82,226.25 1475.40,226.38 1476.98,226.51 1478.56,226.63 1480.14,226.76 1481.71,226.89 1483.29,227.02 1484.87,227.15 1486.45,227.29 1488.03,227.42 1489.61,227.55 1491.19,227.69 1492.76,227.82 1494.34,227.96 1495.92,228.09 1497.50,228.23 1499.08,228.37 1500.66,228.51 1502.24,228.65 1503.81,228.78 1505.39,228.93 1506.97,229.07 1508.55,229.21 1510.13,229.35 1511.71,229.49 1513.29,229.63 1514.86,229.78 1516.44,229.92 1518.02,230.07 1519.60,230.21 1521.18,230.36 1522.76,230.50 1524.34,230.65 1525.91,230.79 1527.49,230.94 1529.07,231.09 1530.65,231.23 1532.23,231.38 1533.81,231.53 1535.39,231.68 1536.96,231.83 1538.54,231.98 1540.12,232.13 1541.70,232.27"/>
<text transform="translate(898.00 477.90) scale(1 1.047)" text-anchor="end" font-size="22.15" stroke="#000" stroke-width="0.45" text-rendering="geometricPrecision" font-family="Liberation Sans, Arial, Helvetica, sans-serif" font-weight="bold">−0.10</text>
<text transform="translate(898.00 411.99) scale(1 1.047)" text-anchor="end" font-size="22.15" stroke="#000" stroke-width="0.45" text-rendering="geometricPrecision" font-family="Liberation Sans, Arial, Helvetica, sans-serif" font-weight="bold">−0.05</text>
<text transform="translate(898.00 346.07) scale(1 1.047)" text-anchor="end" font-size="22.15" stroke="#000" stroke-width="0.45" text-rendering="geometricPrecision" font-family="Liberation Sans, Arial, Helvetica, sans-serif" font-weight="bold">0.00</text>
<text transform="translate(898.00 280.16) scale(1 1.047)" text-anchor="end" font-size="22.15" stroke="#000" stroke-width="0.45" text-rendering="geometricPrecision" font-family="Liberation Sans, Arial, Helvetica, sans-serif" font-weight="bold">0.05</text>
<text transform="translate(898.00 214.24) scale(1 1.047)" text-anchor="end" font-size="22.15" stroke="#000" stroke-width="0.45" text-rendering="geometricPrecision" font-family="Liberation Sans, Arial, Helvetica, sans-serif" font-weight="bold">0.10</text>
<text transform="translate(898.00 148.33) scale(1 1.047)" text-anchor="end" font-size="22.15" stroke="#000" stroke-width="0.45" text-rendering="geometricPrecision" font-family="Liberation Sans, Arial, Helvetica, sans-serif" font-weight="bold">0.15</text>
<text transform="translate(898.00 82.41) scale(1 1.047)" text-anchor="end" font-size="22.15" stroke="#000" stroke-width="0.45" text-rendering="geometricPrecision" font-family="Liberation Sans, Arial, Helvetica, sans-serif" font-weight="bold">0.20</text>
<text transform="translate(898.00 16.50) scale(1 1.047)" text-anchor="end" font-size="22.15" stroke="#000" stroke-width="0.45" text-rendering="geometricPrecision" font-family="Liberation Sans, Arial, Helvetica, sans-serif" font-weight="bold">0.25</text>
<text transform="translate(913.90 500.00) scale(1 1.047)" text-anchor="middle" font-size="22.15" stroke="#000" stroke-width="0.45" text-rendering="geometricPrecision" font-family="Liberation Sans, Arial, Helvetica, sans-serif" font-weight="bold">0</text>
<text transform="translate(1071.60 500.00) scale(1 1.047)" text-anchor="middle" font-size="22.15" stroke="#000" stroke-width="0.45" text-rendering="geometricPrecision" font-family="Liberation Sans, Arial, Helvetica, sans-serif" font-weight="bold">0.5</text>
<text transform="translate(1229.30 500.00) scale(1 1.047)" text-anchor="middle" font-size="22.15" stroke="#000" stroke-width="0.45" text-rendering="geometricPrecision" font-family="Liberation Sans, Arial, Helvetica, sans-serif" font-weight="bold">1</text>
<text transform="translate(1387.00 500.00) scale(1 1.047)" text-anchor="middle" font-size="22.15" stroke="#000" stroke-width="0.45" text-rendering="geometricPrecision" font-family="Liberation Sans, Arial, Helvetica, sans-serif" font-weight="bold">1.5</text>
<text transform="translate(1544.70 500.00) scale(1 1.047)" text-anchor="middle" font-size="22.15" stroke="#000" stroke-width="0.45" text-rendering="geometricPrecision" font-family="Liberation Sans, Arial, Helvetica, sans-serif" font-weight="bold">2</text>
<path d="M910.90 469.80h7.3M1541.70 469.80h-7.3M910.90 403.89h7.3M1541.70 403.89h-7.3M910.90 337.97h7.3M1541.70 337.97h-7.3M910.90 272.06h7.3M1541.70 272.06h-7.3M910.90 206.14h7.3M1541.70 206.14h-7.3M910.90 140.23h7.3M1541.70 140.23h-7.3M910.90 74.31h7.3M1541.70 74.31h-7.3M910.90 8.40h7.3M1541.70 8.40h-7.3M910.90 8.40v7.3M910.90 469.80v-7.3M1068.60 8.40v7.3M1068.60 469.80v-7.3M1226.30 8.40v7.3M1226.30 469.80v-7.3M1384.00 8.40v7.3M1384.00 469.80v-7.3M1541.70 8.40v7.3M1541.70 469.80v-7.3" stroke="#000" stroke-width="2.9" fill="none"/>
<rect x="910.90" y="8.40" width="630.80" height="461.40" fill="none" stroke="#000" stroke-width="5.7"/>
<line x1="1021.20" y1="41.50" x2="1076.10" y2="41.50" stroke="#8b0000" stroke-width="4.2"/>
<text transform="translate(1009.00 47.50)" text-anchor="end" font-size="20" stroke="#000" stroke-width="0.45" text-rendering="geometricPrecision" font-family="Liberation Sans, Arial, Helvetica, sans-serif" font-weight="bold">Total</text>
<line x1="1021.20" y1="61.25" x2="1076.10" y2="61.25" stroke="#006400" stroke-width="4.35" stroke-dasharray="9.90 3.30 1.65 3.30"/>
<text transform="translate(1009.30 67.15)" text-anchor="end" font-size="19.4" stroke="#000" stroke-width="0.45" text-rendering="geometricPrecision" font-family="Liberation Sans, Arial, Helvetica, sans-serif" font-weight="bold">DC</text>
<line x1="1021.20" y1="81.00" x2="1076.10" y2="81.00" stroke="#00008b" stroke-width="4.35" stroke-dasharray="3.30 4.95"/>
<text transform="translate(1009.30 86.90)" text-anchor="end" font-size="19.4" stroke="#000" stroke-width="0.45" text-rendering="geometricPrecision" font-family="Liberation Sans, Arial, Helvetica, sans-serif" font-weight="bold">XC</text>
<line x1="1021.20" y1="100.75" x2="1076.10" y2="100.75" stroke="#c04000" stroke-width="4.35" stroke-dasharray="4.95 4.95 1.65 4.95"/>
<text transform="translate(1009.30 106.65)" text-anchor="end" font-size="19.4" stroke="#000" stroke-width="0.45" text-rendering="geometricPrecision" font-family="Liberation Sans, Arial, Helvetica, sans-serif" font-weight="bold">XB</text>
<text transform="translate(941.95 422.00) scale(1 1.03)" text-anchor="start" font-size="22" stroke="#000" stroke-width="0.45" text-rendering="geometricPrecision" font-family="Liberation Sans, Arial, Helvetica, sans-serif" font-weight="bold">(b) Total (all orders in Z)</text>
<text transform="translate(1226.60 532.00) scale(1 1.03)" text-anchor="middle" font-size="22" stroke="#000" stroke-width="0.45" text-rendering="geometricPrecision" font-family="Liberation Sans, Arial, Helvetica, sans-serif" font-weight="bold">Inverse speed of light 1/c</text>
<text transform="translate(817.90 238.80) rotate(-90)" text-anchor="middle" font-size="22" stroke="#000" stroke-width="0.45" text-rendering="geometricPrecision" font-family="Liberation Sans, Arial, Helvetica, sans-serif" font-weight="bold">First−order QED energy correction</text>
</svg>
</body></html>
